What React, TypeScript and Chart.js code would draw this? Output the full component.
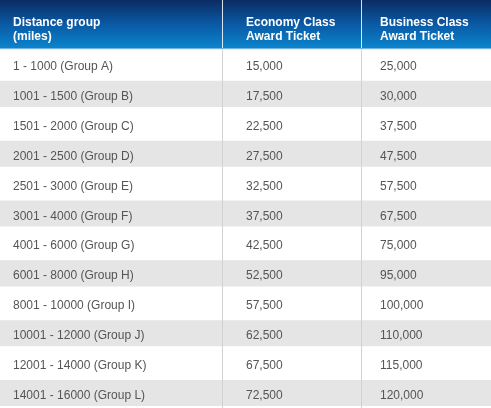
import { useEffect, useRef } from 'react';
import { Chart, registerables } from 'chart.js';

Chart.register(...registerables);

// ---- data ----
const headerLabels: string[][] = [
  ['Distance group', '(miles)'],
  ['Economy Class', 'Award Ticket'],
  ['Business Class', 'Award Ticket'],
];
const distanceGroups: string[] = [
  '1 - 1000 (Group A)',
  '1001 - 1500 (Group B)',
  '1501 - 2000 (Group C)',
  '2001 - 2500 (Group D)',
  '2501 - 3000 (Group E)',
  '3001 - 4000 (Group F)',
  '4001 - 6000 (Group G)',
  '6001 - 8000 (Group H)',
  '8001 - 10000 (Group I)',
  '10001 - 12000 (Group J)',
  '12001 - 14000 (Group K)',
  '14001 - 16000 (Group L)',
];
const economyMiles: number[] = [15000, 17500, 22500, 27500, 32500, 37500, 42500, 52500, 57500, 62500, 67500, 72500];
const businessMiles: number[] = [25000, 30000, 37500, 47500, 57500, 67500, 75000, 95000, 100000, 110000, 115000, 120000];

// ---- layout ----
const W = 491;
const H = 408;
const HEADER_H = 49;
const COL_EDGES = [0, 222, 361, W];
const TEXT_X = [13, 246, 380];
const FONT = '"Liberation Sans", Arial, sans-serif';

const fmt = (v: number) => v.toLocaleString('en-US');

const tablePlugin = {
  id: 'tablePlugin',
  beforeDatasetsDraw(chart: any) {
    const { ctx, chartArea } = chart;
    ctx.save();
    const g = ctx.createLinearGradient(0, 0, 0, chartArea.top);
    g.addColorStop(0, '#0b2c62');
    g.addColorStop(0.5, '#0a5aa6');
    g.addColorStop(1, '#0a86cd');
    ctx.fillStyle = g;
    ctx.fillRect(0, 0, W, chartArea.top);
    ctx.fillStyle = '#d6e2ee';
    ctx.fillRect(0, chartArea.top - 0.5, W, 1);
    ctx.restore();
  },
  afterDatasetsDraw(chart: any) {
    const { ctx, chartArea, scales } = chart;
    const xs = scales.x;
    const ys = scales.y;
    ctx.save();
    // column separators
    for (let c = 1; c < COL_EDGES.length - 1; c++) {
      const x = Math.round(xs.getPixelForValue(COL_EDGES[c])) + 0.5;
      ctx.strokeStyle = 'rgba(255,255,255,0.85)';
      ctx.lineWidth = 1;
      ctx.beginPath();
      ctx.moveTo(x, 0);
      ctx.lineTo(x, chartArea.top - 1);
      ctx.stroke();
      ctx.strokeStyle = '#d2d2d2';
      ctx.beginPath();
      ctx.moveTo(x, chartArea.top);
      ctx.lineTo(x, chartArea.bottom);
      ctx.stroke();
    }
    // header text
    ctx.fillStyle = '#ffffff';
    ctx.font = `bold 12px ${FONT}`;
    ctx.textBaseline = 'alphabetic';
    ctx.textAlign = 'left';
    headerLabels.forEach((lines, c) => {
      const x = xs.getPixelForValue(TEXT_X[c]);
      lines.forEach((t, k) => ctx.fillText(t, x, 26 + k * 13.5));
    });
    // body text
    ctx.fillStyle = '#555555';
    ctx.font = `12px ${FONT}`;
    distanceGroups.forEach((label, i) => {
      const y = ys.getPixelForValue(i) + 6;
      const cells = [label, fmt(economyMiles[i]), fmt(businessMiles[i])];
      cells.forEach((t, c) => ctx.fillText(t, xs.getPixelForValue(TEXT_X[c]), y));
    });
    ctx.restore();
  },
};

export default function App() {
  const ref = useRef<HTMLCanvasElement | null>(null);
  useEffect(() => {
    if (!ref.current) return;
    const rowColor = (ctx: any) => (ctx.dataIndex % 2 === 1 ? '#e5e5e5' : '#ffffff');
    const colDataset = (c: number, label: string) => ({
      label,
      data: distanceGroups.map(() => [COL_EDGES[c], COL_EDGES[c + 1]]),
      backgroundColor: rowColor,
      borderWidth: 0,
      grouped: false,
      barPercentage: 0.87,
      categoryPercentage: 1,
    });
    const chart = new Chart(ref.current, {
      type: 'bar',
      data: {
        labels: distanceGroups,
        datasets: [
          colDataset(0, 'Distance group'),
          colDataset(1, 'Economy Class Award Ticket'),
          colDataset(2, 'Business Class Award Ticket'),
        ] as any,
      },
      options: {
        indexAxis: 'y',
        responsive: false,
        animation: false,
        layout: { padding: { top: HEADER_H, left: 0, right: 0, bottom: 0 } },
        scales: {
          x: { type: 'linear', min: 0, max: W, display: false },
          y: { type: 'category', display: false, offset: true },
        },
        plugins: { legend: { display: false }, tooltip: { enabled: false } },
      },
      plugins: [tablePlugin],
    });
    return () => chart.destroy();
  }, []);
  return (
    <div style={{ position: 'absolute', left: 0, top: 0, width: W, height: H, background: '#ffffff' }}>
      <canvas ref={ref} width={W} height={H} style={{ width: W, height: H, display: 'block' }} />
    </div>
  );
}
